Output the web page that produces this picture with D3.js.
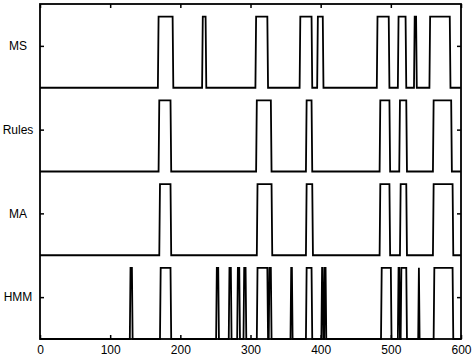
<!DOCTYPE html>
<html lang="en">
<head>
<script src="https://d3js.org/d3.v7.min.js"></script>
<style>
  body { margin: 0; background: #fff; }
  .axis text { font-family: "Liberation Sans", Arial, sans-serif; font-size: 12px; fill: #000; }
  .axis path { display: none; }
  .axis line { stroke: #000; stroke-width: 1.5; }
</style>
</head>
<body>
<div id="chart"></div>
<script>
// panel names, top to bottom
const series = ["MS", "Rules", "MA", "HMM"];
// pulse start / end positions (samples) for each series
const msOn     = [168, 231, 307, 370, 395, 480, 510, 533, 555];
const msOff    = [189, 236, 324, 387, 403, 497, 521, 536, 584];
const rulesOn  = [169, 308, 379, 484, 512, 560];
const rulesOff = [186, 329, 387, 498, 522, 586];
const maOn     = [170, 309, 379, 484, 513, 560];
const maOff    = [186, 330, 388, 498, 522, 588];
const hmmOn    = [128, 171, 251, 269, 281, 290, 309, 326, 357, 379, 401, 405, 486, 510, 514, 539, 561];
const hmmOff   = [131, 186, 254, 272, 284, 293, 324, 329, 359, 387, 403, 407, 500, 512, 522, 540, 588];
const xTicks = [0, 100, 200, 300, 400, 500, 600];
const pulseHeight = 0.85;

var margin = {top: 4, right: 13, bottom: 19, left: 40},
  width = 474 - margin.left - margin.right,
  height = 358 - margin.top - margin.bottom;

var svg = d3.select("#chart").append("svg")
  .attr("width", 474)
  .attr("height", 358)
  .append("g")
  .attr("transform", "translate(" + margin.left + "," + margin.top + ")");

let xScale = d3.scaleLinear().domain([0, 600]).range([0, width]);
let yScale = d3.scaleLinear().domain([0, 4]).range([height, 0]);

// build the step trace for one panel
function trace(on, off, base) {
  let pts = [[0, base]];
  on.forEach(function(s, i) {
    pts.push([s, base], [s + 1, base + pulseHeight], [off[i], base + pulseHeight], [off[i] + 1, base]);
  });
  pts.push([600, base]);
  return pts;
}

let traces = [
  trace(msOn, msOff, 3),
  trace(rulesOn, rulesOff, 2),
  trace(maOn, maOff, 1),
  trace(hmmOn, hmmOff, 0)
];

let line = d3.line()
  .x(function(d) { return xScale(d[0]); })
  .y(function(d) { return yScale(d[1]); });

svg.append("g")
  .selectAll("path")
  .data(traces)
  .enter()
  .append("path")
  .attr("d", line)
  .attr("fill", "none")
  .attr("stroke", "#000")
  .attr("stroke-width", 1.8)
  .attr("stroke-linejoin", "miter");

// axes, ticks pointing inward
svg.append("g")
  .attr("class", "axis")
  .attr("transform", "translate(0," + height + ")")
  .call(d3.axisBottom(xScale).tickValues(xTicks).tickSize(-4).tickPadding(6));
svg.append("g")
  .attr("class", "axis")
  .call(d3.axisTop(xScale).tickValues(xTicks).tickSize(-4).tickFormat(""));

let yTickVals = series.map(function(d, i) { return 3.5 - i; });
let yLeft = svg.append("g")
  .attr("class", "axis")
  .call(d3.axisLeft(yScale).tickValues(yTickVals).tickSize(-4)
    .tickFormat(function(d, i) { return series[i]; }));
yLeft.selectAll("text")
  .attr("x", -22)
  .attr("text-anchor", "middle");
svg.append("g")
  .attr("class", "axis")
  .attr("transform", "translate(" + width + ",0)")
  .call(d3.axisRight(yScale).tickValues(yTickVals).tickSize(-4).tickFormat(""));

// frame
svg.append("rect")
  .attr("width", width)
  .attr("height", height)
  .attr("fill", "none")
  .attr("stroke", "#000")
  .attr("stroke-width", 1.8);
</script>
</body>
</html>
